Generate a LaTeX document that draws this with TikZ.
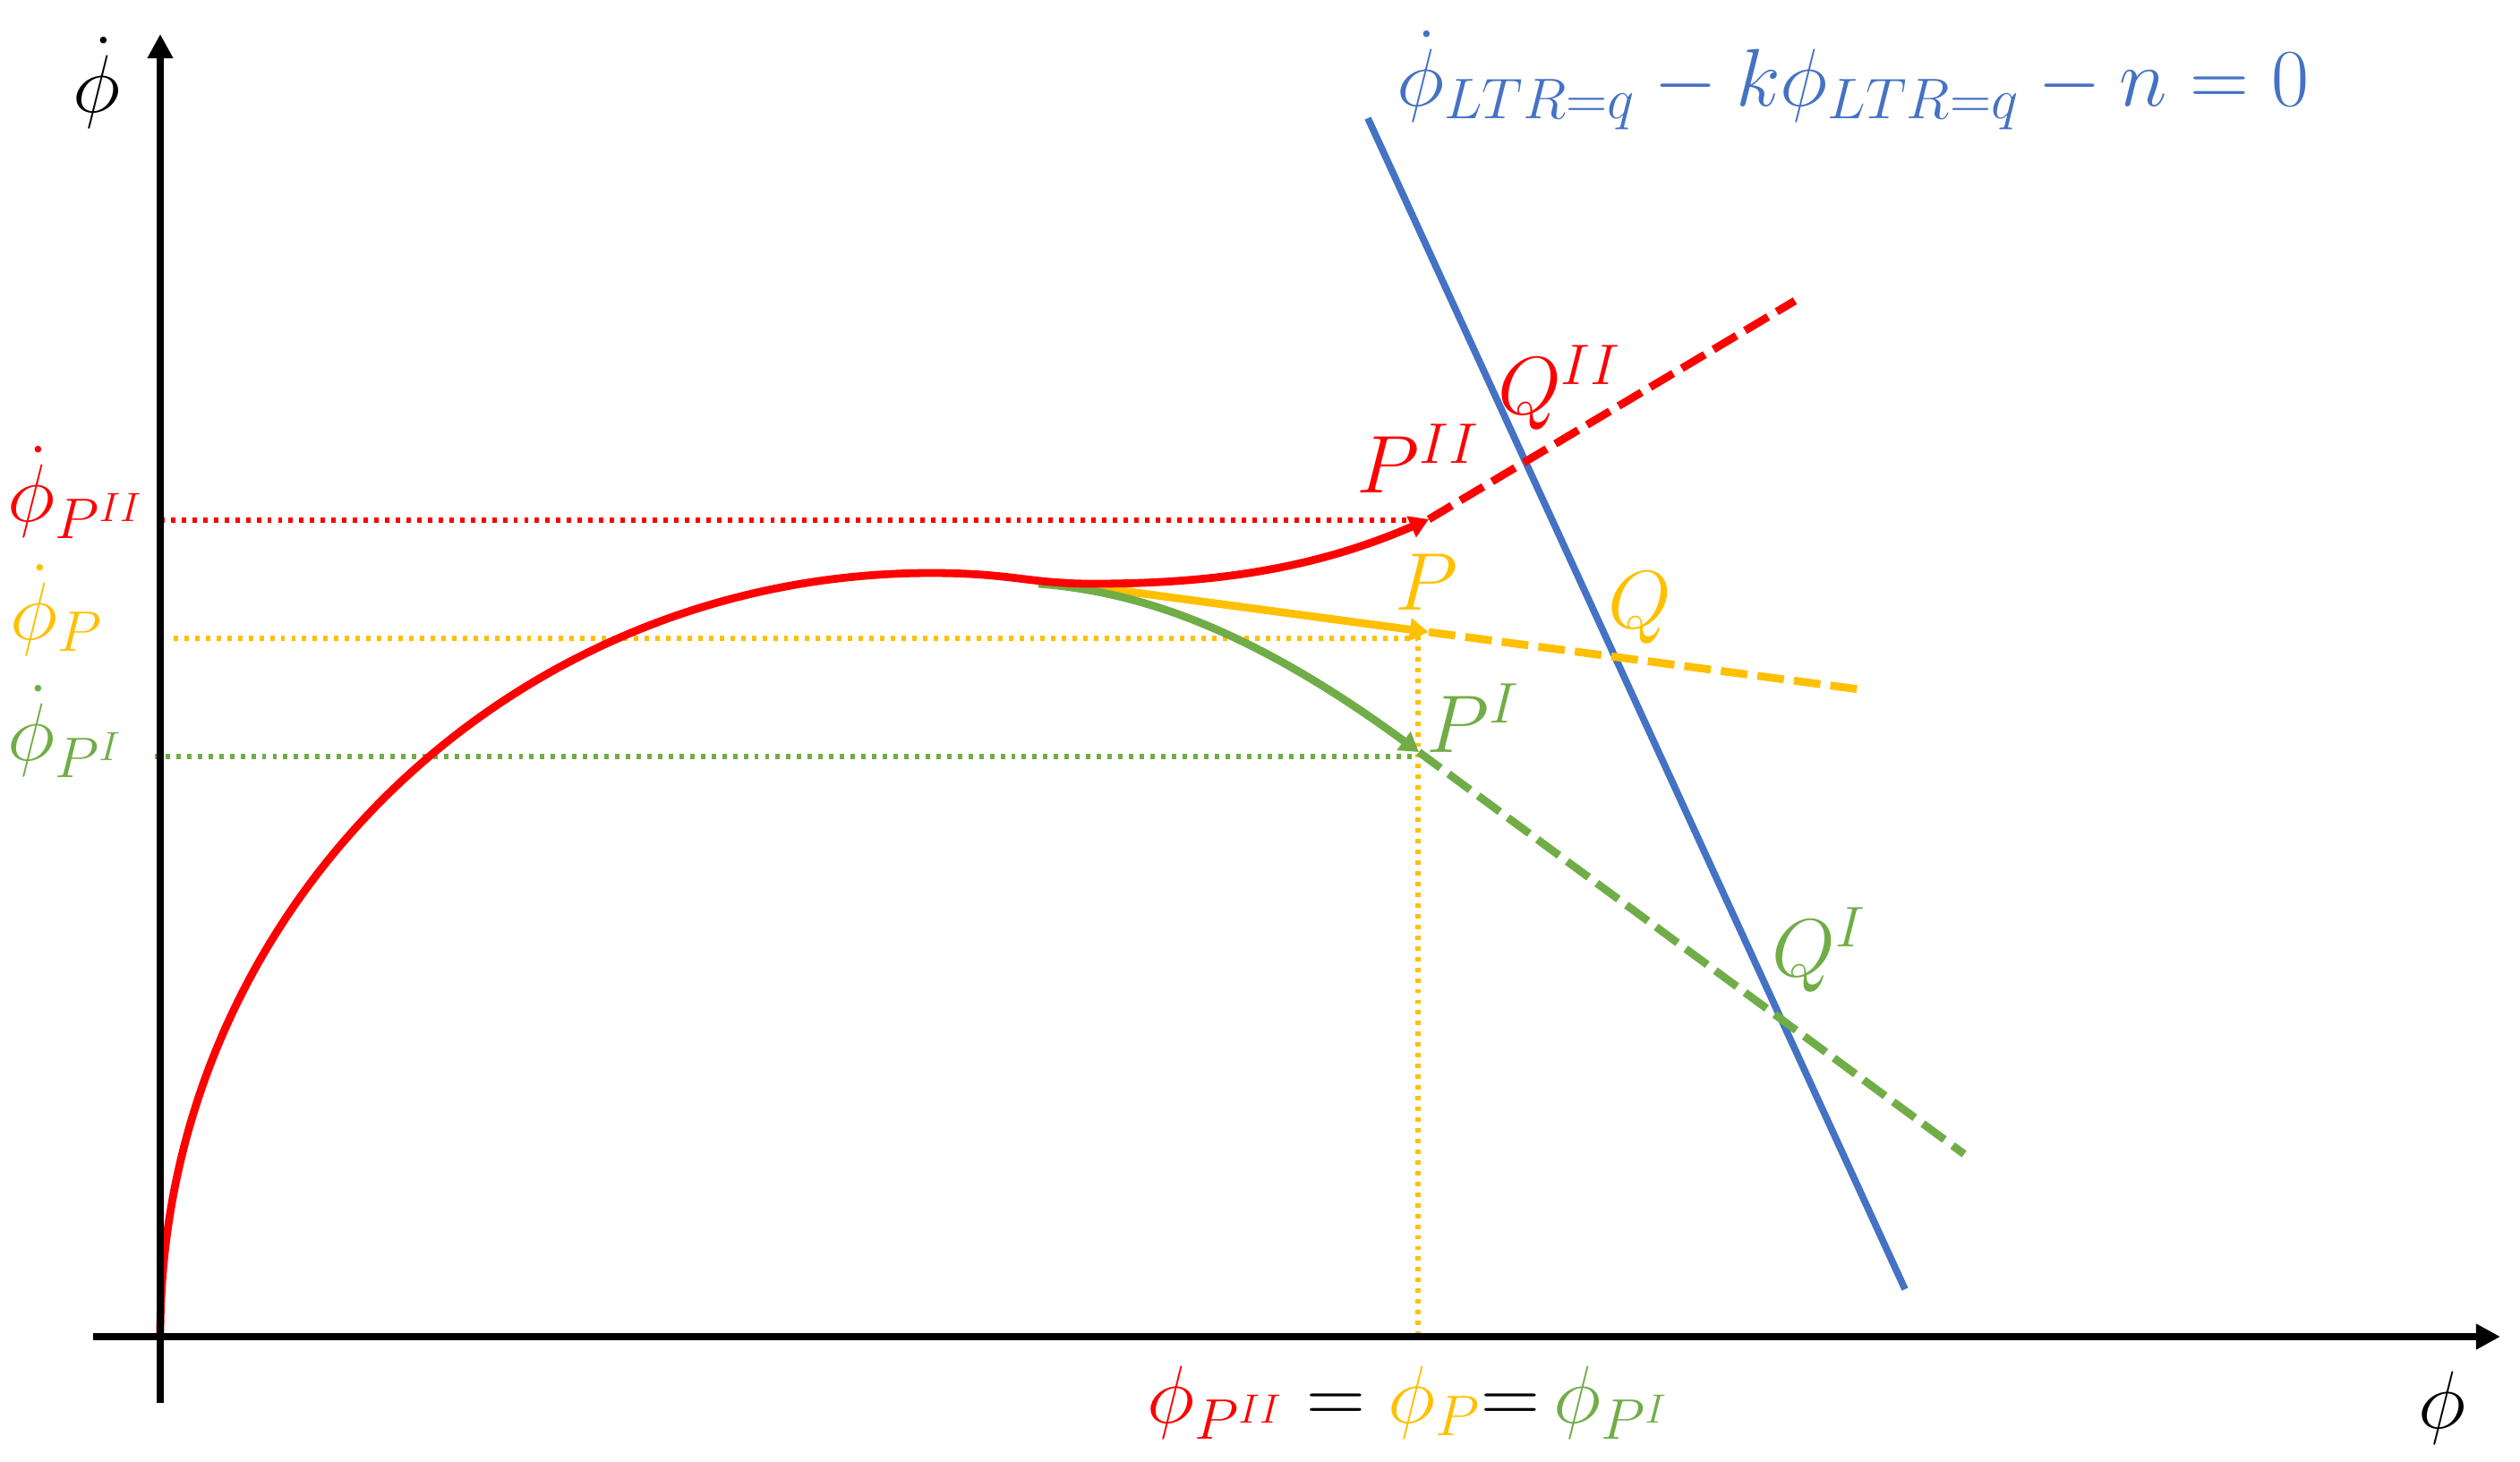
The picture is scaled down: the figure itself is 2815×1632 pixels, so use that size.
\documentclass[tikz,border=0pt]{standalone}
\usepackage{fix-cm}
\usepackage{amsmath}
\usepackage{tikz}
\usetikzlibrary{arrows.meta}
\usepackage{xcolor}
\definecolor{pathred}{HTML}{FF0000}
\definecolor{pathyellow}{HTML}{FFC000}
\definecolor{pathgreen}{HTML}{70AD47}
\definecolor{lineblue}{HTML}{4472C4}

\begin{document}
\begin{tikzpicture}[
  x=0.01cm, y=-0.01cm,
  axis/.style={line width=2.5pt, -{Triangle[length=7.7pt,width=7.7pt]}},
  path/.style={line width=2.5pt, -{Triangle[length=6pt,width=7pt]}},
  extend/.style={line width=2.5pt, dash pattern=on 8.5pt off 3.2pt},
  guide/.style={line width=1.5pt, dash pattern=on 1.4pt off 2pt},
  lbl/.style={font=\fontsize{26}{30}\selectfont, inner sep=0pt}
]
\useasboundingbox (0,0) rectangle (2815,1632);

\coordinate (O) at (179,1492);
\coordinate (ytop) at (179,38);
\coordinate (ybot) at (179,1567);
\coordinate (xleft) at (104,1493);
\coordinate (xright) at (2793,1493);
\coordinate (peak) at (1040,640);
\coordinate (dip) at (1220,652);
\coordinate (branchP) at (1180,650);
\coordinate (branchPI) at (1160,652);
\coordinate (PII) at (1596,580);
\coordinate (P) at (1596,706);
\coordinate (PI) at (1585,840);
\coordinate (endPII) at (2005,336);
\coordinate (endP) at (2077,770);
\coordinate (endPI) at (2194,1289);
\coordinate (blueA) at (1528,132);
\coordinate (blueB) at (2128,1440);
\coordinate (gPIIa) at (179,581);
\coordinate (gPIIb) at (1575,581);
\coordinate (gPa) at (194,713);
\coordinate (gPb) at (1584,713);
\coordinate (gPx) at (1584,1492);
\coordinate (gPIa) at (173,845);
\coordinate (gPIb) at (1579,845);

\draw[guide, draw=pathred] (gPIIa) -- (gPIIb);
\draw[guide, draw=pathyellow] (gPa) -- (gPb) -- (gPx);
\draw[guide, draw=pathgreen] (gPIa) -- (gPIb);

\draw[line width=2.2pt, draw=lineblue] (blueA) -- (blueB);

\draw[extend, draw=pathred] (PII) -- (endPII);
\draw[extend, draw=pathyellow] (P) -- (endP);
\draw[extend, draw=pathgreen] (PI) -- (endPI);

\draw[path, draw=pathyellow] (branchP) -- (P);
\draw[path, draw=pathgreen] (branchPI) .. controls (1260,660) and (1385,693) .. (PI);
\draw[line width=2.5pt, draw=pathred] (O) .. controls (179,1021) and (564,640) .. (peak)
  .. controls (1130,640) and (1150,652) .. (dip);
\draw[path, draw=pathred] (dip) .. controls (1350,652) and (1465,637) .. (PII);

\draw[axis] (ybot) -- (ytop);
\draw[axis] (xleft) -- (xright);

\node[lbl] (ylbl) at (108,92) {$\dot{\phi}$};
\node[lbl] (xlbl) at (2728,1573) {$\phi$};
\node[lbl, text=pathred] (yPIIlbl) at (85,550) {$\dot{\phi}_{P^{II}}$};
\node[lbl, text=pathyellow] (yPlbl) at (63,681) {$\dot{\phi}_{P}$};
\node[lbl, text=pathgreen] (yPIlbl) at (73,817) {$\dot{\phi}_{P^{I}}$};
\node[lbl] (xPlbl) at (1573,1567) {$\textcolor{pathred}{\phi_{P^{II}}} = \textcolor{pathyellow}{\phi_{P}}{=}\,\textcolor{pathgreen}{\phi_{P^{I}}}$};
\node[lbl, text=lineblue] (lineeq) at (2070,90) {$\dot{\phi}_{LTR=q}-k\phi_{LTR=q}-n=0$};
\node[lbl, text=pathred] (PIIlbl) at (1584,512) {$P^{II}$};
\node[lbl, text=pathred] (QIIlbl) at (1742,433) {$Q^{II}$};
\node[lbl, text=pathyellow] (Plbl) at (1594,650) {$P$};
\node[lbl, text=pathyellow] (Qlbl) at (1832,679) {$Q$};
\node[lbl, text=pathgreen] (PIlbl) at (1646,802) {$P^{I}$};
\node[lbl, text=pathgreen] (QIlbl) at (2032,1061) {$Q^{I}$};
\end{tikzpicture}
\end{document}
